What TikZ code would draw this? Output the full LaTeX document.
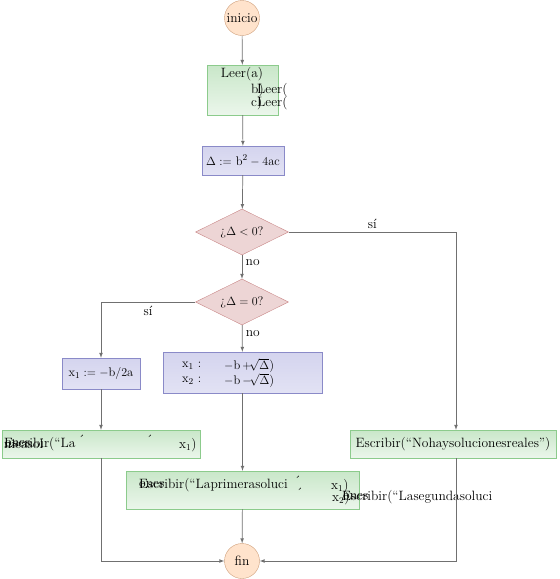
\documentclass[tikz,border=0pt]{standalone}
\usepackage{amsmath}
\usetikzlibrary{shapes.geometric,arrows,calc}

\definecolor{inifondo}{HTML}{FFE3CC}
\definecolor{iniborde}{HTML}{CF9F7A}
\definecolor{verdeA}{HTML}{C9E7C9}
\definecolor{verdeB}{HTML}{EBF6EB}
\definecolor{verdeborde}{HTML}{8CCB8C}
\definecolor{azulA}{HTML}{D4D4EE}
\definecolor{azulB}{HTML}{E2E2F4}
\definecolor{azulborde}{HTML}{8A8AC8}
\definecolor{rosa}{HTML}{EDD5D5}
\definecolor{rosaborde}{HTML}{C98888}
\definecolor{gris}{HTML}{707070}

\tikzset{
  every node/.append style={font=\fontsize{13.5}{16}\selectfont},
  menor/.style={font=\fontsize{12.5}{15}\selectfont},
  terminal/.style={circle,draw=iniborde,fill=inifondo,minimum size=35pt,inner sep=0pt},
  lectura/.style={rectangle,draw=verdeborde,top color=verdeA,bottom color=verdeB,inner sep=0pt},
  proceso/.style={rectangle,draw=azulborde,top color=azulA,bottom color=azulB,inner sep=0pt},
  decision/.style={diamond,draw=rosaborde,fill=rosa,aspect=2,inner sep=0pt,minimum width=93pt,minimum height=46pt},
  linea/.style={draw=gris,line width=0.7pt},
  flecha/.style={linea,-latex},
  texto/.style={inner sep=0pt,anchor=west}
}

\begin{document}
\begin{tikzpicture}[x=1pt,y=-1pt]
  \useasboundingbox (0,0) rectangle (560,579);

  % nodos
  \node[terminal] (inicio) at (242,18) {inicio};
  \node[lectura,minimum width=71pt,minimum height=50pt] (leer) at (242.5,90) {};
  \node[proceso,menor,minimum width=82pt,minimum height=29pt] (delta) at (243,160.5) {$\Delta :=$ b$^2 - 4$ac};
  \node[decision,menor] (d1) at (242,232) {¿$\Delta < 0$?};
  \node[decision,menor] (d2) at (242,302) {¿$\Delta = 0$?};
  \node[proceso,menor,minimum width=78pt,minimum height=31pt] (x1box) at (101,373.5) {x$_1 := -$b$/2$a};
  \node[proceso,minimum width=159pt,minimum height=41pt] (x12) at (242.5,372.5) {};
  \node[lectura,minimum width=198pt,minimum height=28pt] (escUna) at (101,444) {};
  \node[lectura,minimum width=233pt,minimum height=38pt] (escDos) at (242.5,490) {};
  \node[lectura,minimum width=206pt,minimum height=28pt] (escNo) at (453,444) {Escribir(“Nohaysolucionesreales”)};
  \node[terminal] (fin) at (242,561) {fin};
  \coordinate (esq) at (456,232);

  % textos dentro de las cajas
  \node[anchor=center,inner sep=0pt] (ta) at (242,74) {Leer(a)};
  \node[texto] (tb) at (251,90) {b)};
  \node[texto] (tbl) at (257,90) {Leer(};
  \node[texto] (tc) at (251,103) {c)};
  \node[texto] (tcl) at (257,103) {Leer(};
  \node[texto,menor] (tx1) at (182,366) {x$_1$ :};
  \node[texto,menor] (tr1) at (224,366) {$-$b$\,+\!\sqrt{\Delta}$)};
  \node[texto,menor] (tx2) at (182,381) {x$_2$ :};
  \node[texto,menor] (tr2) at (224,381) {$-$b$\,-\!\sqrt{\Delta}$)};
  \node[texto] (tu1) at (4,444) {Escribir(“La};
  \node[texto] (tu2) at (4,444) {nicasol};
  \node[texto] (tu3) at (5,444) {ones};
  \node[texto] (tu4) at (78,440) {\'{}};
  \node[texto] (tu5) at (146,440) {\'{}};
  \node[texto] (tu6) at (179,445) {x$_1$)};
  \node[texto] (tp1) at (139,485) {Escribir(“Laprimerasoluci};
  \node[texto] (tp2) at (139,485) {ones};
  \node[texto] (tp3) at (294,481) {\'{}};
  \node[texto] (tp4) at (331,486) {x$_1$)};
  \node[texto] (ts1) at (296,493) {\'{}};
  \node[texto] (ts2) at (332,498) {x$_2$)};
  \node[texto] (ts3) at (342,497) {Escribir(“Lasegundasoluci};
  \node[texto] (ts4) at (343,497) {ones};

  % conectores
  \draw[flecha] (inicio) -- (leer);
  \draw[flecha] (leer) -- (delta);
  \draw[flecha] (delta) -- (d1);
  \draw[flecha] (d1) -- node[right,pos=0.3] {no} (d2);
  \draw[flecha] (d1.east) -- node[above,pos=0.5] {sí} (esq) -- (esq |- escNo.north);
  \draw[flecha] (d2.west) -| node[below,pos=0.5,xshift=47pt] {sí} (x1box.north);
  \draw[flecha] (d2) -- node[right,pos=0.3] {no} (x12);
  \draw[flecha] (x1box) -- (escUna);
  \draw[flecha] (x12) -- (escDos);
  \draw[flecha] (escDos) -- (fin);
  \draw[flecha] (escUna.south) |- (fin.west);
  \draw[flecha] (esq |- escNo.south) |- (fin.east);
\end{tikzpicture}
\end{document}
